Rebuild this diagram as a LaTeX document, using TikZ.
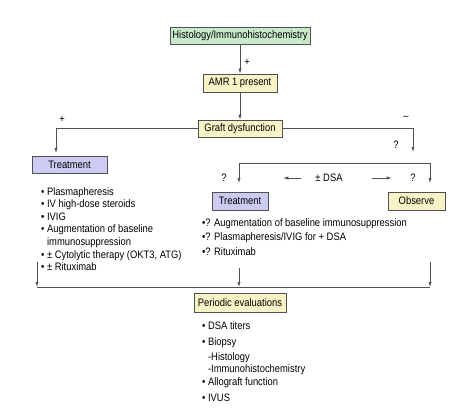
\documentclass[tikz,border=0pt]{standalone}
\usepackage{fontspec}
\setmainfont{Liberation Sans}[FakeStretch=0.87]
\usetikzlibrary{positioning,arrows.meta}

\definecolor{boxgreen}{RGB}{200,234,200}
\definecolor{boxyellow}{RGB}{247,243,198}
\definecolor{boxblue}{RGB}{204,204,242}
\definecolor{linegray}{RGB}{80,80,80}

\begin{document}
\begin{tikzpicture}[
    x=1pt, y=-1pt,
    font=\fontsize{10.8}{12.6}\selectfont,
    >={Latex[length=5pt,width=3.2pt]},
    conn/.style={draw=linegray, line width=0.65pt},
    box/.style={draw=linegray, line width=0.6pt, inner sep=0pt, minimum height=17pt},
    greenbox/.style={box, fill=boxgreen},
    yellowbox/.style={box, fill=boxyellow},
    bluebox/.style={box, fill=boxblue},
    listtext/.style={inner sep=0pt, align=left, anchor=north west},
    sign/.style={inner sep=0pt}
]
\useasboundingbox (0,0) rectangle (474,408);

% boxes
\node (histo) [greenbox, minimum width=140pt] at (240,35.5) {Histology/Immunohistochemistry};
\node (amr) [yellowbox, minimum width=74pt, minimum height=18pt] at (240,83) {AMR 1 present};
\node (graft) [yellowbox, minimum width=84pt] at (240,128.5) {Graft dysfunction};
\node (ltreat) [bluebox, minimum width=75pt] at (69.5,164.5) {Treatment};
\node (mtreat) [bluebox, minimum width=56pt, minimum height=18pt] at (240,201) {Treatment};
\node (observe) [yellowbox, minimum width=57pt, minimum height=18pt] at (416.5,201) {Observe};
\node (periodic) [yellowbox, minimum width=92pt, minimum height=19pt] at (240,302.5) {Periodic evaluations};

% lists
\node (llist) [listtext] at (41,187) {%
• Plasmapheresis\\
• IV high-dose steroids\\
• IVIG\\
• Augmentation of baseline\\
\phantom{• }immunosuppression\\
• ± Cytolytic therapy (OKT3, ATG)\\
• ± Rituximab};
\node (mlist) [listtext, font=\fontsize{10.8}{14.5}\selectfont] at (202,218) {%
•? Augmentation of baseline immunosuppression\\
•? Plasmapheresis/IVIG for + DSA\\
•? Rituximab};
\node (plist) [listtext] at (202,321) {%
• DSA titers\\[3.5pt]
• Biopsy\\[2.5pt]
\phantom{• }-Histology\\
\phantom{• }-Immunohistochemistry\\
• Allograft function\\[3.5pt]
• IVUS};

% signs
\node (plus1) [sign] at (247,62) {+};
\node (plus2) [sign] at (62,119) {+};
\node (minus1) [sign] at (406,118) {--};
\node (q1) [sign] at (396,145) {?};
\node (q2) [sign] at (224,178) {?};
\node (q3) [sign] at (413,178) {?};
\node (dsa) [sign] at (329,178) {± DSA};

% bends and free ends
\coordinate (lend) at (56,153);
\coordinate (rend) at (413,152);
\coordinate (mend) at (239,183);
\coordinate (oend) at (430,183);
\coordinate (split) at (430,163);
\coordinate (bl) at (37,287);
\coordinate (br) at (430,287);
\coordinate (lfrom) at (37,262);
\coordinate (mfrom) at (239,268);
\coordinate (ofrom) at (430,262);

% connectors
\draw[conn, ->] (histo) -- (amr);
\draw[conn, ->] (amr) -- (graft);
\draw[conn, ->] (graft.west) -| (lend);
\draw[conn, ->] (graft.east) -| (rend);
\draw[conn, <->] (mend) |- (split) -- (oend);
\draw[conn, ->] (dsa.west) ++(-14pt,0) -- ++(-18pt,0);
\draw[conn, ->] (dsa.east) ++(29pt,0) -- ++(20pt,0);
\draw[conn] (bl) -- (br);
\draw[conn, ->] (lfrom) -- (lfrom |- bl);
\draw[conn, ->] (mfrom) -- (mfrom |- bl);
\draw[conn, ->] (ofrom) -- (ofrom |- bl);
\end{tikzpicture}
\end{document}
